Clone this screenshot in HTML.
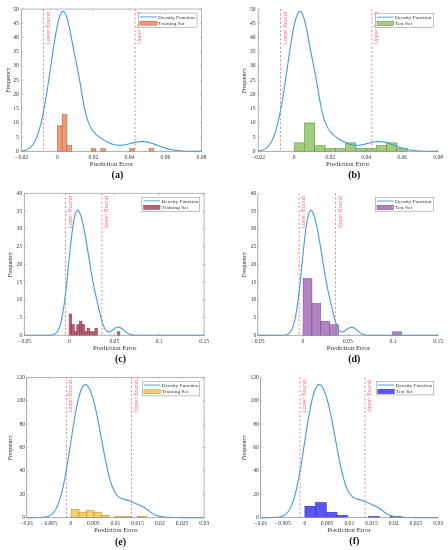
<!DOCTYPE html>
<html><head><meta charset="utf-8"><title>Prediction error distributions</title>
<style>html,body{margin:0;padding:0;background:#fff;} svg{display:block;}</style></head>
<body><svg width="448" height="550" viewBox="0 0 448 550">
<rect width="448" height="550" fill="#fff"/>
<g id="pa">
<rect x="57.3" y="125.78" width="4.83" height="25.62" fill="#ee9a73" stroke="#a85c3c" stroke-width="0.5"/>
<rect x="62.13" y="114.39" width="4.83" height="37.01" fill="#ee9a73" stroke="#a85c3c" stroke-width="0.5"/>
<rect x="66.96" y="145.71" width="4.83" height="5.69" fill="#ee9a73" stroke="#a85c3c" stroke-width="0.5"/>
<rect x="91.11" y="148.55" width="4.83" height="2.85" fill="#ee9a73" stroke="#a85c3c" stroke-width="0.5"/>
<rect x="100.77" y="148.55" width="4.83" height="2.85" fill="#ee9a73" stroke="#a85c3c" stroke-width="0.5"/>
<rect x="129.75" y="148.55" width="4.83" height="2.85" fill="#ee9a73" stroke="#a85c3c" stroke-width="0.5"/>
<rect x="149.07" y="148.55" width="4.83" height="2.85" fill="#ee9a73" stroke="#a85c3c" stroke-width="0.5"/>
<line x1="43.5" y1="9.05" x2="43.5" y2="151.4" stroke="#ee6274" stroke-width="0.8" stroke-dasharray="2,2.2"/>
<line x1="135.2" y1="9.05" x2="135.2" y2="151.4" stroke="#ee6274" stroke-width="0.8" stroke-dasharray="2,2.2"/>
<text transform="translate(49.5,44.05) rotate(-90)" font-family="'Liberation Sans', Arial, sans-serif" font-size="5.45" fill="#f07686" textLength="32.2" lengthAdjust="spacingAndGlyphs">Lower Bound</text>
<text transform="translate(141.2,44.05) rotate(-90)" font-family="'Liberation Sans', Arial, sans-serif" font-size="5.45" fill="#f07686" textLength="32.2" lengthAdjust="spacingAndGlyphs">Upper Bound</text>
<path d="M21.4,150.95 L21.85,150.89 L22.3,150.82 L22.75,150.75 L23.21,150.67 L23.66,150.57 L24.11,150.47 L24.56,150.36 L25.01,150.23 L25.46,150.09 L25.91,149.93 L26.37,149.76 L26.82,149.57 L27.27,149.37 L27.72,149.14 L28.17,148.89 L28.62,148.61 L29.07,148.31 L29.52,147.98 L29.98,147.63 L30.43,147.24 L30.88,146.81 L31.33,146.35 L31.78,145.85 L32.23,145.31 L32.68,144.73 L33.14,144.1 L33.59,143.42 L34.04,142.7 L34.49,141.91 L34.94,141.07 L35.39,140.18 L35.84,139.22 L36.3,138.19 L36.75,137.1 L37.2,135.95 L37.65,134.72 L38.1,133.41 L38.55,132.03 L39,130.58 L39.46,129.04 L39.91,127.43 L40.36,125.73 L40.81,123.95 L41.26,122.09 L41.71,120.14 L42.16,118.1 L42.61,115.99 L43.07,113.79 L43.52,111.51 L43.97,109.14 L44.42,106.7 L44.87,104.18 L45.32,101.58 L45.77,98.92 L46.23,96.18 L46.68,93.39 L47.13,90.53 L47.58,87.62 L48.03,84.66 L48.48,81.66 L48.93,78.62 L49.39,75.55 L49.84,72.46 L50.29,69.35 L50.74,66.24 L51.19,63.13 L51.64,60.03 L52.09,56.94 L52.55,53.89 L53,50.87 L53.45,47.9 L53.9,44.98 L54.35,42.13 L54.8,39.35 L55.25,36.66 L55.7,34.06 L56.16,31.56 L56.61,29.17 L57.06,26.9 L57.51,24.76 L57.96,22.76 L58.41,20.89 L58.86,19.18 L59.32,17.62 L59.77,16.23 L60.22,15 L60.67,13.94 L61.12,13.06 L61.57,12.35 L62.02,11.83 L62.48,11.49 L62.93,11.33 L63.38,11.35 L63.83,11.55 L64.28,11.94 L64.73,12.5 L65.18,13.24 L65.64,14.15 L66.09,15.23 L66.54,16.47 L66.99,17.86 L67.44,19.4 L67.89,21.09 L68.34,22.9 L68.79,24.83 L69.25,26.88 L69.7,29.02 L70.15,31.25 L70.6,33.54 L71.05,35.9 L71.5,38.29 L71.95,40.71 L72.41,43.14 L72.86,45.56 L73.31,47.96 L73.76,50.34 L74.21,52.69 L74.66,55 L75.11,57.27 L75.57,59.51 L76.02,61.73 L76.47,63.94 L76.92,66.16 L77.37,68.4 L77.82,70.68 L78.27,73.01 L78.73,75.41 L79.18,77.87 L79.63,80.41 L80.08,83.01 L80.53,85.67 L80.98,88.36 L81.43,91.07 L81.88,93.77 L82.34,96.44 L82.79,99.06 L83.24,101.6 L83.69,104.04 L84.14,106.38 L84.59,108.59 L85.04,110.67 L85.5,112.62 L85.95,114.44 L86.4,116.13 L86.85,117.7 L87.3,119.16 L87.75,120.51 L88.2,121.76 L88.66,122.92 L89.11,124 L89.56,125.01 L90.01,125.95 L90.46,126.83 L90.91,127.65 L91.36,128.43 L91.82,129.15 L92.27,129.84 L92.72,130.48 L93.17,131.09 L93.62,131.67 L94.07,132.21 L94.52,132.73 L94.97,133.23 L95.43,133.69 L95.88,134.14 L96.33,134.57 L96.78,134.98 L97.23,135.38 L97.68,135.75 L98.13,136.12 L98.59,136.48 L99.04,136.82 L99.49,137.15 L99.94,137.48 L100.39,137.8 L100.84,138.11 L101.29,138.41 L101.75,138.7 L102.2,139 L102.65,139.28 L103.1,139.56 L103.55,139.84 L104,140.11 L104.45,140.37 L104.91,140.63 L105.36,140.89 L105.81,141.14 L106.26,141.39 L106.71,141.63 L107.16,141.86 L107.61,142.09 L108.06,142.32 L108.52,142.53 L108.97,142.75 L109.42,142.95 L109.87,143.15 L110.32,143.34 L110.77,143.52 L111.22,143.7 L111.68,143.87 L112.13,144.03 L112.58,144.18 L113.03,144.32 L113.48,144.45 L113.93,144.58 L114.38,144.7 L114.84,144.8 L115.29,144.9 L115.74,144.99 L116.19,145.07 L116.64,145.14 L117.09,145.2 L117.54,145.25 L117.99,145.29 L118.45,145.32 L118.9,145.34 L119.35,145.35 L119.8,145.36 L120.25,145.35 L120.7,145.34 L121.15,145.32 L121.61,145.29 L122.06,145.25 L122.51,145.2 L122.96,145.15 L123.41,145.09 L123.86,145.02 L124.31,144.95 L124.77,144.87 L125.22,144.78 L125.67,144.69 L126.12,144.6 L126.57,144.5 L127.02,144.4 L127.47,144.29 L127.93,144.18 L128.38,144.07 L128.83,143.95 L129.28,143.84 L129.73,143.72 L130.18,143.6 L130.63,143.48 L131.08,143.36 L131.54,143.24 L131.99,143.13 L132.44,143.01 L132.89,142.9 L133.34,142.79 L133.79,142.68 L134.24,142.57 L134.7,142.47 L135.15,142.37 L135.6,142.28 L136.05,142.19 L136.5,142.11 L136.95,142.03 L137.4,141.95 L137.86,141.89 L138.31,141.83 L138.76,141.77 L139.21,141.72 L139.66,141.68 L140.11,141.65 L140.56,141.62 L141.02,141.6 L141.47,141.59 L141.92,141.59 L142.37,141.59 L142.82,141.6 L143.27,141.62 L143.72,141.64 L144.17,141.68 L144.63,141.72 L145.08,141.77 L145.53,141.82 L145.98,141.88 L146.43,141.95 L146.88,142.03 L147.33,142.12 L147.79,142.21 L148.24,142.3 L148.69,142.41 L149.14,142.52 L149.59,142.63 L150.04,142.75 L150.49,142.88 L150.95,143.01 L151.4,143.15 L151.85,143.29 L152.3,143.43 L152.75,143.58 L153.2,143.73 L153.65,143.89 L154.11,144.05 L154.56,144.21 L155.01,144.37 L155.46,144.54 L155.91,144.7 L156.36,144.87 L156.81,145.04 L157.26,145.21 L157.72,145.38 L158.17,145.55 L158.62,145.72 L159.07,145.89 L159.52,146.06 L159.97,146.23 L160.42,146.39 L160.88,146.56 L161.33,146.72 L161.78,146.88 L162.23,147.04 L162.68,147.2 L163.13,147.36 L163.58,147.51 L164.04,147.66 L164.49,147.81 L164.94,147.95 L165.39,148.09 L165.84,148.23 L166.29,148.37 L166.74,148.5 L167.2,148.63 L167.65,148.75 L168.1,148.87 L168.55,148.99 L169,149.1 L169.45,149.22 L169.9,149.32 L170.35,149.43 L170.81,149.52 L171.26,149.62 L171.71,149.71 L172.16,149.8 L172.61,149.89 L173.06,149.97 L173.51,150.05 L173.97,150.12 L174.42,150.2 L174.87,150.27 L175.32,150.33 L175.77,150.4 L176.22,150.46 L176.67,150.51 L177.13,150.57 L177.58,150.62 L178.03,150.67 L178.48,150.71 L178.93,150.76 L179.38,150.8 L179.83,150.84 L180.29,150.88 L180.74,150.91 L181.19,150.95 L181.64,150.98 L182.09,151.01 L182.54,151.03 L182.99,151.06 L183.44,151.09 L183.9,151.11 L184.35,151.13 L184.8,151.15 L185.25,151.17 L185.7,151.19 L186.15,151.2 L186.6,151.22 L187.06,151.23 L187.51,151.25 L187.96,151.26 L188.41,151.27 L188.86,151.28 L189.31,151.29 L189.76,151.3 L190.22,151.31 L190.67,151.32 L191.12,151.32 L191.57,151.33 L192.02,151.34 L192.47,151.34 L192.92,151.35 L193.38,151.35 L193.83,151.36 L194.28,151.36 L194.73,151.36 L195.18,151.37 L195.63,151.37 L196.08,151.37 L196.53,151.37 L196.99,151.38 L197.44,151.38 L197.89,151.38 L198.34,151.38 L198.79,151.38 L199.24,151.39 L199.69,151.39 L200.15,151.39 L200.6,151.39 L201.05,151.39 L201.5,151.39" fill="none" stroke="#439bd7" stroke-width="1.1" stroke-linejoin="round"/>
<path d="M21.4,9.05 V151.4 H201.5" fill="none" stroke="#979797" stroke-width="0.8"/>
<path d="M21.4,9.05 H201.5 V151.4" fill="none" stroke="#979797" stroke-width="0.7"/>
<text x="21.4" y="158.8" text-anchor="middle" font-family="'Liberation Serif', 'Times New Roman', serif" font-size="5.6" fill="#333333">−<tspan dx="0.6">0.02</tspan></text>
<text x="57.42" y="158.8" text-anchor="middle" font-family="'Liberation Serif', 'Times New Roman', serif" font-size="5.6" fill="#333333">0</text>
<text x="93.44" y="158.8" text-anchor="middle" font-family="'Liberation Serif', 'Times New Roman', serif" font-size="5.6" fill="#333333">0.02</text>
<text x="129.46" y="158.8" text-anchor="middle" font-family="'Liberation Serif', 'Times New Roman', serif" font-size="5.6" fill="#333333">0.04</text>
<text x="165.48" y="158.8" text-anchor="middle" font-family="'Liberation Serif', 'Times New Roman', serif" font-size="5.6" fill="#333333">0.06</text>
<text x="201.5" y="158.8" text-anchor="middle" font-family="'Liberation Serif', 'Times New Roman', serif" font-size="5.6" fill="#333333">0.08</text>
<text x="18.8" y="152.85" text-anchor="end" font-family="'Liberation Serif', 'Times New Roman', serif" font-size="5.6" fill="#333333">0</text>
<text x="18.8" y="138.62" text-anchor="end" font-family="'Liberation Serif', 'Times New Roman', serif" font-size="5.6" fill="#333333">5</text>
<text x="18.8" y="124.38" text-anchor="end" font-family="'Liberation Serif', 'Times New Roman', serif" font-size="5.6" fill="#333333">10</text>
<text x="18.8" y="110.15" text-anchor="end" font-family="'Liberation Serif', 'Times New Roman', serif" font-size="5.6" fill="#333333">15</text>
<text x="18.8" y="95.91" text-anchor="end" font-family="'Liberation Serif', 'Times New Roman', serif" font-size="5.6" fill="#333333">20</text>
<text x="18.8" y="81.68" text-anchor="end" font-family="'Liberation Serif', 'Times New Roman', serif" font-size="5.6" fill="#333333">25</text>
<text x="18.8" y="67.44" text-anchor="end" font-family="'Liberation Serif', 'Times New Roman', serif" font-size="5.6" fill="#333333">30</text>
<text x="18.8" y="53.21" text-anchor="end" font-family="'Liberation Serif', 'Times New Roman', serif" font-size="5.6" fill="#333333">35</text>
<text x="18.8" y="38.97" text-anchor="end" font-family="'Liberation Serif', 'Times New Roman', serif" font-size="5.6" fill="#333333">40</text>
<text x="18.8" y="24.73" text-anchor="end" font-family="'Liberation Serif', 'Times New Roman', serif" font-size="5.6" fill="#333333">45</text>
<text x="18.8" y="10.5" text-anchor="end" font-family="'Liberation Serif', 'Times New Roman', serif" font-size="5.6" fill="#333333">50</text>
<path d="M21.4,151.4 v-1.8 M21.4,9.05 v1.8 M57.42,151.4 v-1.8 M57.42,9.05 v1.8 M93.44,151.4 v-1.8 M93.44,9.05 v1.8 M129.46,151.4 v-1.8 M129.46,9.05 v1.8 M165.48,151.4 v-1.8 M165.48,9.05 v1.8 M201.5,151.4 v-1.8 M201.5,9.05 v1.8 M21.4,151.4 h1.8 M201.5,151.4 h-1.8 M21.4,137.17 h1.8 M201.5,137.17 h-1.8 M21.4,122.93 h1.8 M201.5,122.93 h-1.8 M21.4,108.7 h1.8 M201.5,108.7 h-1.8 M21.4,94.46 h1.8 M201.5,94.46 h-1.8 M21.4,80.23 h1.8 M201.5,80.23 h-1.8 M21.4,65.99 h1.8 M201.5,65.99 h-1.8 M21.4,51.76 h1.8 M201.5,51.76 h-1.8 M21.4,37.52 h1.8 M201.5,37.52 h-1.8 M21.4,23.28 h1.8 M201.5,23.28 h-1.8 M21.4,9.05 h1.8 M201.5,9.05 h-1.8" stroke="#979797" stroke-width="0.6"/>
<text x="111.4" y="166.1" text-anchor="middle" font-family="'Liberation Serif', 'Times New Roman', serif" font-size="6.8" fill="#333333" textLength="43.5" lengthAdjust="spacingAndGlyphs">Prediction Error</text>
<text transform="translate(9.5,80) rotate(-90)" text-anchor="middle" font-family="'Liberation Serif', 'Times New Roman', serif" font-size="6.3" fill="#333333" textLength="25.6" lengthAdjust="spacingAndGlyphs">Frequency</text>
<text x="117.4" y="177.9" text-anchor="middle" font-family="'Liberation Serif', 'Times New Roman', serif" font-weight="bold" font-size="10" fill="#111">(a)</text>
<rect x="138.3" y="13.1" width="58.7" height="14.2" fill="#fff" stroke="#979797" stroke-width="0.6"/>
<line x1="139.9" y1="16.9" x2="157.1" y2="16.9" stroke="#439bd7" stroke-width="0.9"/>
<rect x="139.9" y="21.2" width="17.2" height="4" fill="#ee9a73" stroke="#a85c3c" stroke-width="0.5"/>
<text x="158.1" y="18.8" font-family="'Liberation Serif', 'Times New Roman', serif" font-size="5.0" fill="#333333" textLength="36.9" lengthAdjust="spacingAndGlyphs">Density Function</text>
<text x="158.1" y="24.5" font-family="'Liberation Serif', 'Times New Roman', serif" font-size="5.0" fill="#333333" textLength="26.5" lengthAdjust="spacingAndGlyphs">Training Set</text>
</g>
<g id="pb">
<rect x="294.2" y="142.86" width="10.28" height="8.54" fill="#a1cf79" stroke="#5f8040" stroke-width="0.5"/>
<rect x="304.48" y="122.93" width="10.28" height="28.47" fill="#a1cf79" stroke="#5f8040" stroke-width="0.5"/>
<rect x="314.76" y="145.71" width="10.28" height="5.69" fill="#a1cf79" stroke="#5f8040" stroke-width="0.5"/>
<rect x="325.04" y="148.55" width="10.28" height="2.85" fill="#a1cf79" stroke="#5f8040" stroke-width="0.5"/>
<rect x="335.32" y="148.55" width="10.28" height="2.85" fill="#a1cf79" stroke="#5f8040" stroke-width="0.5"/>
<rect x="345.6" y="142.86" width="10.28" height="8.54" fill="#a1cf79" stroke="#5f8040" stroke-width="0.5"/>
<rect x="355.88" y="148.55" width="10.28" height="2.85" fill="#a1cf79" stroke="#5f8040" stroke-width="0.5"/>
<rect x="366.16" y="148.55" width="10.28" height="2.85" fill="#a1cf79" stroke="#5f8040" stroke-width="0.5"/>
<rect x="376.44" y="145.71" width="10.28" height="5.69" fill="#a1cf79" stroke="#5f8040" stroke-width="0.5"/>
<rect x="386.72" y="142.86" width="10.28" height="8.54" fill="#a1cf79" stroke="#5f8040" stroke-width="0.5"/>
<rect x="397" y="148.55" width="10.28" height="2.85" fill="#a1cf79" stroke="#5f8040" stroke-width="0.5"/>
<line x1="280.5" y1="9.05" x2="280.5" y2="151.4" stroke="#ee6274" stroke-width="0.8" stroke-dasharray="2,2.2"/>
<line x1="371.8" y1="9.05" x2="371.8" y2="151.4" stroke="#ee6274" stroke-width="0.8" stroke-dasharray="2,2.2"/>
<text transform="translate(286.5,44.05) rotate(-90)" font-family="'Liberation Sans', Arial, sans-serif" font-size="5.45" fill="#f07686" textLength="32.2" lengthAdjust="spacingAndGlyphs">Lower Bound</text>
<text transform="translate(377.8,44.05) rotate(-90)" font-family="'Liberation Sans', Arial, sans-serif" font-size="5.45" fill="#f07686" textLength="32.2" lengthAdjust="spacingAndGlyphs">Upper Bound</text>
<path d="M258.2,150.95 L258.65,150.89 L259.1,150.82 L259.55,150.75 L260,150.67 L260.45,150.57 L260.91,150.47 L261.36,150.36 L261.81,150.23 L262.26,150.09 L262.71,149.94 L263.16,149.77 L263.61,149.58 L264.06,149.37 L264.51,149.14 L264.96,148.89 L265.41,148.62 L265.86,148.32 L266.32,147.99 L266.77,147.63 L267.22,147.25 L267.67,146.82 L268.12,146.36 L268.57,145.87 L269.02,145.33 L269.47,144.75 L269.92,144.12 L270.37,143.45 L270.82,142.72 L271.28,141.94 L271.73,141.1 L272.18,140.21 L272.63,139.25 L273.08,138.23 L273.53,137.15 L273.98,135.99 L274.43,134.77 L274.88,133.47 L275.33,132.09 L275.78,130.64 L276.24,129.11 L276.69,127.5 L277.14,125.81 L277.59,124.04 L278.04,122.18 L278.49,120.24 L278.94,118.21 L279.39,116.1 L279.84,113.91 L280.29,111.63 L280.74,109.27 L281.19,106.84 L281.65,104.33 L282.1,101.74 L282.55,99.08 L283,96.35 L283.45,93.56 L283.9,90.71 L284.35,87.81 L284.8,84.85 L285.25,81.86 L285.7,78.82 L286.15,75.76 L286.61,72.67 L287.06,69.57 L287.51,66.46 L287.96,63.35 L288.41,60.26 L288.86,57.17 L289.31,54.12 L289.76,51.1 L290.21,48.13 L290.66,45.21 L291.11,42.36 L291.56,39.58 L292.02,36.88 L292.47,34.27 L292.92,31.77 L293.37,29.37 L293.82,27.1 L294.27,24.95 L294.72,22.93 L295.17,21.06 L295.62,19.33 L296.07,17.76 L296.52,16.35 L296.98,15.11 L297.43,14.04 L297.88,13.14 L298.33,12.42 L298.78,11.87 L299.23,11.51 L299.68,11.33 L300.13,11.34 L300.58,11.52 L301.03,11.89 L301.48,12.43 L301.94,13.15 L302.39,14.04 L302.84,15.1 L303.29,16.32 L303.74,17.7 L304.19,19.22 L304.64,20.89 L305.09,22.68 L305.54,24.6 L305.99,26.63 L306.44,28.76 L306.89,30.98 L307.35,33.26 L307.8,35.61 L308.25,37.99 L308.7,40.41 L309.15,42.83 L309.6,45.25 L310.05,47.66 L310.5,50.04 L310.95,52.38 L311.4,54.7 L311.85,56.97 L312.31,59.21 L312.76,61.43 L313.21,63.64 L313.66,65.85 L314.11,68.09 L314.56,70.36 L315.01,72.68 L315.46,75.07 L315.91,77.52 L316.36,80.04 L316.81,82.63 L317.26,85.28 L317.72,87.96 L318.17,90.67 L318.62,93.37 L319.07,96.04 L319.52,98.67 L319.97,101.22 L320.42,103.67 L320.87,106.02 L321.32,108.25 L321.77,110.35 L322.22,112.32 L322.68,114.16 L323.13,115.87 L323.58,117.46 L324.03,118.93 L324.48,120.29 L324.93,121.56 L325.38,122.73 L325.83,123.83 L326.28,124.84 L326.73,125.79 L327.18,126.68 L327.64,127.51 L328.09,128.3 L328.54,129.03 L328.99,129.72 L329.44,130.37 L329.89,130.99 L330.34,131.57 L330.79,132.12 L331.24,132.64 L331.69,133.14 L332.14,133.61 L332.59,134.06 L333.05,134.49 L333.5,134.91 L333.95,135.3 L334.4,135.68 L334.85,136.05 L335.3,136.41 L335.75,136.75 L336.2,137.09 L336.65,137.42 L337.1,137.73 L337.55,138.05 L338.01,138.35 L338.46,138.65 L338.91,138.94 L339.36,139.22 L339.81,139.51 L340.26,139.78 L340.71,140.05 L341.16,140.32 L341.61,140.58 L342.06,140.84 L342.51,141.09 L342.96,141.34 L343.42,141.58 L343.87,141.81 L344.32,142.04 L344.77,142.27 L345.22,142.49 L345.67,142.7 L346.12,142.91 L346.57,143.11 L347.02,143.3 L347.47,143.48 L347.92,143.66 L348.38,143.83 L348.83,143.99 L349.28,144.14 L349.73,144.29 L350.18,144.43 L350.63,144.55 L351.08,144.67 L351.53,144.78 L351.98,144.88 L352.43,144.97 L352.88,145.05 L353.34,145.12 L353.79,145.18 L354.24,145.23 L354.69,145.28 L355.14,145.31 L355.59,145.34 L356.04,145.35 L356.49,145.36 L356.94,145.35 L357.39,145.34 L357.84,145.32 L358.29,145.29 L358.75,145.26 L359.2,145.21 L359.65,145.16 L360.1,145.1 L360.55,145.04 L361,144.97 L361.45,144.89 L361.9,144.81 L362.35,144.72 L362.8,144.62 L363.25,144.52 L363.71,144.42 L364.16,144.32 L364.61,144.21 L365.06,144.1 L365.51,143.98 L365.96,143.87 L366.41,143.75 L366.86,143.63 L367.31,143.51 L367.76,143.39 L368.21,143.28 L368.66,143.16 L369.12,143.04 L369.57,142.93 L370.02,142.82 L370.47,142.71 L370.92,142.6 L371.37,142.5 L371.82,142.4 L372.27,142.3 L372.72,142.21 L373.17,142.13 L373.62,142.05 L374.08,141.97 L374.53,141.91 L374.98,141.84 L375.43,141.79 L375.88,141.74 L376.33,141.69 L376.78,141.66 L377.23,141.63 L377.68,141.61 L378.13,141.59 L378.58,141.59 L379.04,141.59 L379.49,141.59 L379.94,141.61 L380.39,141.63 L380.84,141.67 L381.29,141.7 L381.74,141.75 L382.19,141.8 L382.64,141.86 L383.09,141.93 L383.54,142.01 L383.99,142.09 L384.45,142.18 L384.9,142.27 L385.35,142.37 L385.8,142.48 L386.25,142.6 L386.7,142.72 L387.15,142.84 L387.6,142.97 L388.05,143.1 L388.5,143.24 L388.95,143.39 L389.41,143.53 L389.86,143.68 L390.31,143.84 L390.76,144 L391.21,144.15 L391.66,144.32 L392.11,144.48 L392.56,144.65 L393.01,144.81 L393.46,144.98 L393.91,145.15 L394.36,145.32 L394.82,145.49 L395.27,145.66 L395.72,145.83 L396.17,146 L396.62,146.17 L397.07,146.34 L397.52,146.5 L397.97,146.67 L398.42,146.83 L398.87,146.99 L399.32,147.15 L399.78,147.3 L400.23,147.46 L400.68,147.61 L401.13,147.76 L401.58,147.9 L402.03,148.04 L402.48,148.18 L402.93,148.32 L403.38,148.45 L403.83,148.58 L404.28,148.71 L404.74,148.83 L405.19,148.95 L405.64,149.06 L406.09,149.18 L406.54,149.28 L406.99,149.39 L407.44,149.49 L407.89,149.59 L408.34,149.68 L408.79,149.77 L409.24,149.86 L409.69,149.94 L410.15,150.02 L410.6,150.1 L411.05,150.17 L411.5,150.24 L411.95,150.31 L412.4,150.37 L412.85,150.43 L413.3,150.49 L413.75,150.55 L414.2,150.6 L414.65,150.65 L415.11,150.7 L415.56,150.74 L416.01,150.78 L416.46,150.82 L416.91,150.86 L417.36,150.9 L417.81,150.93 L418.26,150.97 L418.71,151 L419.16,151.02 L419.61,151.05 L420.06,151.08 L420.52,151.1 L420.97,151.12 L421.42,151.14 L421.87,151.16 L422.32,151.18 L422.77,151.2 L423.22,151.21 L423.67,151.23 L424.12,151.24 L424.57,151.25 L425.02,151.26 L425.48,151.28 L425.93,151.29 L426.38,151.3 L426.83,151.3 L427.28,151.31 L427.73,151.32 L428.18,151.33 L428.63,151.33 L429.08,151.34 L429.53,151.34 L429.98,151.35 L430.44,151.35 L430.89,151.36 L431.34,151.36 L431.79,151.36 L432.24,151.37 L432.69,151.37 L433.14,151.37 L433.59,151.38 L434.04,151.38 L434.49,151.38 L434.94,151.38 L435.39,151.38 L435.85,151.39 L436.3,151.39 L436.75,151.39 L437.2,151.39 L437.65,151.39 L438.1,151.39" fill="none" stroke="#439bd7" stroke-width="1.1" stroke-linejoin="round"/>
<path d="M258.2,9.05 V151.4 H438.1" fill="none" stroke="#979797" stroke-width="0.8"/>
<text x="258.2" y="158.8" text-anchor="middle" font-family="'Liberation Serif', 'Times New Roman', serif" font-size="5.6" fill="#333333">−<tspan dx="0.6">0.02</tspan></text>
<text x="294.18" y="158.8" text-anchor="middle" font-family="'Liberation Serif', 'Times New Roman', serif" font-size="5.6" fill="#333333">0</text>
<text x="330.16" y="158.8" text-anchor="middle" font-family="'Liberation Serif', 'Times New Roman', serif" font-size="5.6" fill="#333333">0.02</text>
<text x="366.14" y="158.8" text-anchor="middle" font-family="'Liberation Serif', 'Times New Roman', serif" font-size="5.6" fill="#333333">0.04</text>
<text x="402.12" y="158.8" text-anchor="middle" font-family="'Liberation Serif', 'Times New Roman', serif" font-size="5.6" fill="#333333">0.06</text>
<text x="438.1" y="158.8" text-anchor="middle" font-family="'Liberation Serif', 'Times New Roman', serif" font-size="5.6" fill="#333333">0.08</text>
<text x="255.6" y="152.85" text-anchor="end" font-family="'Liberation Serif', 'Times New Roman', serif" font-size="5.6" fill="#333333">0</text>
<text x="255.6" y="138.62" text-anchor="end" font-family="'Liberation Serif', 'Times New Roman', serif" font-size="5.6" fill="#333333">5</text>
<text x="255.6" y="124.38" text-anchor="end" font-family="'Liberation Serif', 'Times New Roman', serif" font-size="5.6" fill="#333333">10</text>
<text x="255.6" y="110.15" text-anchor="end" font-family="'Liberation Serif', 'Times New Roman', serif" font-size="5.6" fill="#333333">15</text>
<text x="255.6" y="95.91" text-anchor="end" font-family="'Liberation Serif', 'Times New Roman', serif" font-size="5.6" fill="#333333">20</text>
<text x="255.6" y="81.68" text-anchor="end" font-family="'Liberation Serif', 'Times New Roman', serif" font-size="5.6" fill="#333333">25</text>
<text x="255.6" y="67.44" text-anchor="end" font-family="'Liberation Serif', 'Times New Roman', serif" font-size="5.6" fill="#333333">30</text>
<text x="255.6" y="53.21" text-anchor="end" font-family="'Liberation Serif', 'Times New Roman', serif" font-size="5.6" fill="#333333">35</text>
<text x="255.6" y="38.97" text-anchor="end" font-family="'Liberation Serif', 'Times New Roman', serif" font-size="5.6" fill="#333333">40</text>
<text x="255.6" y="24.73" text-anchor="end" font-family="'Liberation Serif', 'Times New Roman', serif" font-size="5.6" fill="#333333">45</text>
<text x="255.6" y="10.5" text-anchor="end" font-family="'Liberation Serif', 'Times New Roman', serif" font-size="5.6" fill="#333333">50</text>
<path d="M258.2,151.4 v-1.8 M294.18,151.4 v-1.8 M330.16,151.4 v-1.8 M366.14,151.4 v-1.8 M402.12,151.4 v-1.8 M438.1,151.4 v-1.8 M258.2,151.4 h1.8 M258.2,137.17 h1.8 M258.2,122.93 h1.8 M258.2,108.7 h1.8 M258.2,94.46 h1.8 M258.2,80.23 h1.8 M258.2,65.99 h1.8 M258.2,51.76 h1.8 M258.2,37.52 h1.8 M258.2,23.28 h1.8 M258.2,9.05 h1.8" stroke="#979797" stroke-width="0.6"/>
<text x="347.85" y="165.85" text-anchor="middle" font-family="'Liberation Serif', 'Times New Roman', serif" font-size="6.8" fill="#333333" textLength="43.5" lengthAdjust="spacingAndGlyphs">Prediction Error</text>
<text transform="translate(246,80.5) rotate(-90)" text-anchor="middle" font-family="'Liberation Serif', 'Times New Roman', serif" font-size="6.3" fill="#333333" textLength="25.6" lengthAdjust="spacingAndGlyphs">Frequency</text>
<text x="354.3" y="177.9" text-anchor="middle" font-family="'Liberation Serif', 'Times New Roman', serif" font-weight="bold" font-size="10" fill="#111">(b)</text>
<rect x="375.5" y="13.3" width="58" height="14" fill="#fff" stroke="#979797" stroke-width="0.6"/>
<line x1="377" y1="17.2" x2="393.4" y2="17.2" stroke="#439bd7" stroke-width="0.9"/>
<rect x="377" y="21.2" width="16.4" height="4.2" fill="#a1cf79" stroke="#5f8040" stroke-width="0.5"/>
<text x="395" y="18.8" font-family="'Liberation Serif', 'Times New Roman', serif" font-size="5.0" fill="#333333" textLength="36.4" lengthAdjust="spacingAndGlyphs">Density Function</text>
<text x="395" y="24.5" font-family="'Liberation Serif', 'Times New Roman', serif" font-size="5.0" fill="#333333" textLength="16.9" lengthAdjust="spacingAndGlyphs">Test Set</text>
</g>
<g id="pc">
<rect x="69.1" y="314.01" width="2.58" height="21.29" fill="#c25c76" stroke="#7a3044" stroke-width="0.5"/>
<rect x="71.68" y="324.66" width="2.58" height="10.64" fill="#c25c76" stroke="#7a3044" stroke-width="0.5"/>
<rect x="74.26" y="331.75" width="2.58" height="3.55" fill="#c25c76" stroke="#7a3044" stroke-width="0.5"/>
<rect x="76.84" y="324.66" width="2.58" height="10.64" fill="#c25c76" stroke="#7a3044" stroke-width="0.5"/>
<rect x="79.42" y="321.11" width="2.58" height="14.19" fill="#c25c76" stroke="#7a3044" stroke-width="0.5"/>
<rect x="82" y="324.66" width="2.58" height="10.64" fill="#c25c76" stroke="#7a3044" stroke-width="0.5"/>
<rect x="84.58" y="331.75" width="2.58" height="3.55" fill="#c25c76" stroke="#7a3044" stroke-width="0.5"/>
<rect x="87.16" y="328.2" width="2.58" height="7.1" fill="#c25c76" stroke="#7a3044" stroke-width="0.5"/>
<rect x="89.74" y="331.75" width="2.58" height="3.55" fill="#c25c76" stroke="#7a3044" stroke-width="0.5"/>
<rect x="92.32" y="331.75" width="2.58" height="3.55" fill="#c25c76" stroke="#7a3044" stroke-width="0.5"/>
<rect x="94.9" y="328.2" width="2.58" height="7.1" fill="#c25c76" stroke="#7a3044" stroke-width="0.5"/>
<rect x="117.3" y="331.75" width="2.6" height="3.55" fill="#c25c76" stroke="#7a3044" stroke-width="0.5"/>
<line x1="65.5" y1="193.4" x2="65.5" y2="335.3" stroke="#ee6274" stroke-width="0.8" stroke-dasharray="2,2.2"/>
<line x1="101.95" y1="193.4" x2="101.95" y2="335.3" stroke="#ee6274" stroke-width="0.8" stroke-dasharray="2,2.2"/>
<text transform="translate(71.5,228.4) rotate(-90)" font-family="'Liberation Sans', Arial, sans-serif" font-size="5.45" fill="#f07686" textLength="32.2" lengthAdjust="spacingAndGlyphs">Lower Bound</text>
<text transform="translate(107.95,228.4) rotate(-90)" font-family="'Liberation Sans', Arial, sans-serif" font-size="5.45" fill="#f07686" textLength="32.2" lengthAdjust="spacingAndGlyphs">Upper Bound</text>
<path d="M24.4,335.3 L24.85,335.3 L25.3,335.3 L25.75,335.3 L26.2,335.3 L26.65,335.3 L27.1,335.3 L27.55,335.3 L28.01,335.3 L28.46,335.3 L28.91,335.3 L29.36,335.3 L29.81,335.3 L30.26,335.3 L30.71,335.3 L31.16,335.3 L31.61,335.3 L32.06,335.3 L32.51,335.3 L32.96,335.3 L33.41,335.3 L33.86,335.3 L34.31,335.3 L34.76,335.3 L35.22,335.3 L35.67,335.3 L36.12,335.3 L36.57,335.3 L37.02,335.3 L37.47,335.3 L37.92,335.3 L38.37,335.3 L38.82,335.3 L39.27,335.3 L39.72,335.3 L40.17,335.3 L40.62,335.3 L41.07,335.3 L41.52,335.3 L41.97,335.3 L42.43,335.3 L42.88,335.3 L43.33,335.3 L43.78,335.3 L44.23,335.3 L44.68,335.29 L45.13,335.29 L45.58,335.29 L46.03,335.29 L46.48,335.28 L46.93,335.28 L47.38,335.27 L47.83,335.26 L48.28,335.25 L48.73,335.23 L49.18,335.21 L49.64,335.18 L50.09,335.15 L50.54,335.11 L50.99,335.06 L51.44,335 L51.89,334.93 L52.34,334.84 L52.79,334.73 L53.24,334.59 L53.69,334.43 L54.14,334.24 L54.59,334.01 L55.04,333.73 L55.49,333.41 L55.94,333.02 L56.39,332.57 L56.85,332.05 L57.3,331.44 L57.75,330.74 L58.2,329.93 L58.65,329 L59.1,327.95 L59.55,326.76 L60,325.42 L60.45,323.92 L60.9,322.25 L61.35,320.4 L61.8,318.35 L62.25,316.11 L62.7,313.66 L63.15,311.01 L63.6,308.14 L64.06,305.06 L64.51,301.78 L64.96,298.3 L65.41,294.62 L65.86,290.77 L66.31,286.75 L66.76,282.59 L67.21,278.31 L67.66,273.93 L68.11,269.48 L68.56,264.99 L69.01,260.49 L69.46,256.02 L69.91,251.6 L70.36,247.28 L70.81,243.08 L71.27,239.04 L71.72,235.19 L72.17,231.55 L72.62,228.15 L73.07,225.02 L73.52,222.17 L73.97,219.61 L74.42,217.37 L74.87,215.43 L75.32,213.81 L75.77,212.51 L76.22,211.51 L76.67,210.81 L77.12,210.4 L77.57,210.26 L78.02,210.38 L78.48,210.74 L78.93,211.33 L79.38,212.12 L79.83,213.11 L80.28,214.27 L80.73,215.59 L81.18,217.06 L81.63,218.67 L82.08,220.4 L82.53,222.26 L82.98,224.22 L83.43,226.3 L83.88,228.47 L84.33,230.74 L84.78,233.1 L85.23,235.56 L85.69,238.09 L86.14,240.7 L86.59,243.38 L87.04,246.11 L87.49,248.89 L87.94,251.71 L88.39,254.55 L88.84,257.4 L89.29,260.24 L89.74,263.06 L90.19,265.86 L90.64,268.6 L91.09,271.3 L91.54,273.93 L91.99,276.49 L92.44,278.98 L92.9,281.39 L93.35,283.74 L93.8,286.01 L94.25,288.22 L94.7,290.38 L95.15,292.49 L95.6,294.56 L96.05,296.59 L96.5,298.61 L96.95,300.6 L97.4,302.58 L97.85,304.54 L98.3,306.49 L98.75,308.42 L99.2,310.33 L99.65,312.21 L100.11,314.05 L100.56,315.85 L101.01,317.58 L101.46,319.25 L101.91,320.84 L102.36,322.34 L102.81,323.74 L103.26,325.04 L103.71,326.22 L104.16,327.29 L104.61,328.24 L105.06,329.08 L105.51,329.8 L105.96,330.4 L106.41,330.9 L106.86,331.29 L107.32,331.58 L107.77,331.78 L108.22,331.89 L108.67,331.92 L109.12,331.88 L109.57,331.77 L110.02,331.61 L110.47,331.4 L110.92,331.15 L111.37,330.86 L111.82,330.55 L112.27,330.22 L112.72,329.88 L113.17,329.53 L113.62,329.18 L114.07,328.84 L114.53,328.52 L114.98,328.22 L115.43,327.94 L115.88,327.7 L116.33,327.5 L116.78,327.34 L117.23,327.22 L117.68,327.15 L118.13,327.12 L118.58,327.15 L119.03,327.22 L119.48,327.34 L119.93,327.51 L120.38,327.72 L120.83,327.96 L121.28,328.24 L121.74,328.56 L122.19,328.89 L122.64,329.25 L123.09,329.62 L123.54,330 L123.99,330.38 L124.44,330.76 L124.89,331.14 L125.34,331.51 L125.79,331.87 L126.24,332.21 L126.69,332.54 L127.14,332.84 L127.59,333.13 L128.04,333.39 L128.49,333.63 L128.95,333.85 L129.4,334.05 L129.85,334.23 L130.3,334.39 L130.75,334.53 L131.2,334.65 L131.65,334.75 L132.1,334.84 L132.55,334.92 L133,334.99 L133.45,335.05 L133.9,335.09 L134.35,335.13 L134.8,335.17 L135.25,335.19 L135.7,335.22 L136.16,335.23 L136.61,335.25 L137.06,335.26 L137.51,335.27 L137.96,335.28 L138.41,335.28 L138.86,335.29 L139.31,335.29 L139.76,335.29 L140.21,335.29 L140.66,335.3 L141.11,335.3 L141.56,335.3 L142.01,335.3 L142.46,335.3 L142.91,335.3 L143.37,335.3 L143.82,335.3 L144.27,335.3 L144.72,335.3 L145.17,335.3 L145.62,335.3 L146.07,335.3 L146.52,335.3 L146.97,335.3 L147.42,335.3 L147.87,335.3 L148.32,335.3 L148.77,335.3 L149.22,335.3 L149.67,335.3 L150.12,335.3 L150.58,335.3 L151.03,335.3 L151.48,335.3 L151.93,335.3 L152.38,335.3 L152.83,335.3 L153.28,335.3 L153.73,335.3 L154.18,335.3 L154.63,335.3 L155.08,335.3 L155.53,335.3 L155.98,335.3 L156.43,335.3 L156.88,335.3 L157.33,335.3 L157.79,335.3 L158.24,335.3 L158.69,335.3 L159.14,335.3 L159.59,335.3 L160.04,335.3 L160.49,335.3 L160.94,335.3 L161.39,335.3 L161.84,335.3 L162.29,335.3 L162.74,335.3 L163.19,335.3 L163.64,335.3 L164.09,335.3 L164.54,335.3 L165,335.3 L165.45,335.3 L165.9,335.3 L166.35,335.3 L166.8,335.3 L167.25,335.3 L167.7,335.3 L168.15,335.3 L168.6,335.3 L169.05,335.3 L169.5,335.3 L169.95,335.3 L170.4,335.3 L170.85,335.3 L171.3,335.3 L171.75,335.3 L172.21,335.3 L172.66,335.3 L173.11,335.3 L173.56,335.3 L174.01,335.3 L174.46,335.3 L174.91,335.3 L175.36,335.3 L175.81,335.3 L176.26,335.3 L176.71,335.3 L177.16,335.3 L177.61,335.3 L178.06,335.3 L178.51,335.3 L178.96,335.3 L179.42,335.3 L179.87,335.3 L180.32,335.3 L180.77,335.3 L181.22,335.3 L181.67,335.3 L182.12,335.3 L182.57,335.3 L183.02,335.3 L183.47,335.3 L183.92,335.3 L184.37,335.3 L184.82,335.3 L185.27,335.3 L185.72,335.3 L186.17,335.3 L186.63,335.3 L187.08,335.3 L187.53,335.3 L187.98,335.3 L188.43,335.3 L188.88,335.3 L189.33,335.3 L189.78,335.3 L190.23,335.3 L190.68,335.3 L191.13,335.3 L191.58,335.3 L192.03,335.3 L192.48,335.3 L192.93,335.3 L193.38,335.3 L193.84,335.3 L194.29,335.3 L194.74,335.3 L195.19,335.3 L195.64,335.3 L196.09,335.3 L196.54,335.3 L196.99,335.3 L197.44,335.3 L197.89,335.3 L198.34,335.3 L198.79,335.3 L199.24,335.3 L199.69,335.3 L200.14,335.3 L200.59,335.3 L201.05,335.3 L201.5,335.3 L201.95,335.3 L202.4,335.3 L202.85,335.3 L203.3,335.3 L203.75,335.3 L204.2,335.3" fill="none" stroke="#439bd7" stroke-width="1.1" stroke-linejoin="round"/>
<path d="M24.4,193.4 V335.3 H204.2" fill="none" stroke="#979797" stroke-width="0.8"/>
<path d="M24.4,193.4 H204.2 V335.3" fill="none" stroke="#979797" stroke-width="0.7"/>
<text x="24.4" y="342.7" text-anchor="middle" font-family="'Liberation Serif', 'Times New Roman', serif" font-size="5.6" fill="#333333">−<tspan dx="0.6">0.05</tspan></text>
<text x="69.35" y="342.7" text-anchor="middle" font-family="'Liberation Serif', 'Times New Roman', serif" font-size="5.6" fill="#333333">0</text>
<text x="114.3" y="342.7" text-anchor="middle" font-family="'Liberation Serif', 'Times New Roman', serif" font-size="5.6" fill="#333333">0.05</text>
<text x="159.25" y="342.7" text-anchor="middle" font-family="'Liberation Serif', 'Times New Roman', serif" font-size="5.6" fill="#333333">0.1</text>
<text x="204.2" y="342.7" text-anchor="middle" font-family="'Liberation Serif', 'Times New Roman', serif" font-size="5.6" fill="#333333">0.15</text>
<text x="22.2" y="336.75" text-anchor="end" font-family="'Liberation Serif', 'Times New Roman', serif" font-size="5.6" fill="#333333">0</text>
<text x="22.2" y="319.01" text-anchor="end" font-family="'Liberation Serif', 'Times New Roman', serif" font-size="5.6" fill="#333333">5</text>
<text x="22.2" y="301.27" text-anchor="end" font-family="'Liberation Serif', 'Times New Roman', serif" font-size="5.6" fill="#333333">10</text>
<text x="22.2" y="283.54" text-anchor="end" font-family="'Liberation Serif', 'Times New Roman', serif" font-size="5.6" fill="#333333">15</text>
<text x="22.2" y="265.8" text-anchor="end" font-family="'Liberation Serif', 'Times New Roman', serif" font-size="5.6" fill="#333333">20</text>
<text x="22.2" y="248.06" text-anchor="end" font-family="'Liberation Serif', 'Times New Roman', serif" font-size="5.6" fill="#333333">25</text>
<text x="22.2" y="230.32" text-anchor="end" font-family="'Liberation Serif', 'Times New Roman', serif" font-size="5.6" fill="#333333">30</text>
<text x="22.2" y="212.59" text-anchor="end" font-family="'Liberation Serif', 'Times New Roman', serif" font-size="5.6" fill="#333333">35</text>
<text x="22.2" y="194.85" text-anchor="end" font-family="'Liberation Serif', 'Times New Roman', serif" font-size="5.6" fill="#333333">40</text>
<path d="M24.4,335.3 v-1.8 M24.4,193.4 v1.8 M69.35,335.3 v-1.8 M69.35,193.4 v1.8 M114.3,335.3 v-1.8 M114.3,193.4 v1.8 M159.25,335.3 v-1.8 M159.25,193.4 v1.8 M204.2,335.3 v-1.8 M204.2,193.4 v1.8 M24.4,335.3 h1.8 M204.2,335.3 h-1.8 M24.4,317.56 h1.8 M204.2,317.56 h-1.8 M24.4,299.82 h1.8 M204.2,299.82 h-1.8 M24.4,282.09 h1.8 M204.2,282.09 h-1.8 M24.4,264.35 h1.8 M204.2,264.35 h-1.8 M24.4,246.61 h1.8 M204.2,246.61 h-1.8 M24.4,228.88 h1.8 M204.2,228.88 h-1.8 M24.4,211.14 h1.8 M204.2,211.14 h-1.8 M24.4,193.4 h1.8 M204.2,193.4 h-1.8" stroke="#979797" stroke-width="0.6"/>
<text x="114.85" y="350" text-anchor="middle" font-family="'Liberation Serif', 'Times New Roman', serif" font-size="6.8" fill="#333333" textLength="43.5" lengthAdjust="spacingAndGlyphs">Prediction Error</text>
<text transform="translate(12.3,264.4) rotate(-90)" text-anchor="middle" font-family="'Liberation Serif', 'Times New Roman', serif" font-size="6.3" fill="#333333" textLength="25.6" lengthAdjust="spacingAndGlyphs">Frequency</text>
<text x="120.6" y="362.4" text-anchor="middle" font-family="'Liberation Serif', 'Times New Roman', serif" font-weight="bold" font-size="10" fill="#111">(c)</text>
<rect x="141.8" y="197.3" width="57.9" height="14.2" fill="#fff" stroke="#979797" stroke-width="0.6"/>
<line x1="143.6" y1="200.8" x2="160" y2="200.8" stroke="#439bd7" stroke-width="0.9"/>
<rect x="143.6" y="205.4" width="16.4" height="3.8" fill="#c25c76" stroke="#7a3044" stroke-width="0.5"/>
<text x="161.5" y="202.9" font-family="'Liberation Serif', 'Times New Roman', serif" font-size="5.0" fill="#333333" textLength="36.9" lengthAdjust="spacingAndGlyphs">Density Function</text>
<text x="161.5" y="208.8" font-family="'Liberation Serif', 'Times New Roman', serif" font-size="5.0" fill="#333333" textLength="26.5" lengthAdjust="spacingAndGlyphs">Training Set</text>
</g>
<g id="pd">
<rect x="303.1" y="278.6" width="8.85" height="56.8" fill="#b283c4" stroke="#74468a" stroke-width="0.5"/>
<rect x="311.95" y="303.45" width="8.85" height="31.95" fill="#b283c4" stroke="#74468a" stroke-width="0.5"/>
<rect x="320.8" y="321.2" width="8.85" height="14.2" fill="#b283c4" stroke="#74468a" stroke-width="0.5"/>
<rect x="329.65" y="324.75" width="8.85" height="10.65" fill="#b283c4" stroke="#74468a" stroke-width="0.5"/>
<rect x="392.1" y="331.85" width="9.6" height="3.55" fill="#b283c4" stroke="#74468a" stroke-width="0.5"/>
<line x1="299.2" y1="193.4" x2="299.2" y2="335.4" stroke="#ee6274" stroke-width="0.8" stroke-dasharray="2,2.2"/>
<line x1="335.5" y1="193.4" x2="335.5" y2="335.4" stroke="#ee6274" stroke-width="0.8" stroke-dasharray="2,2.2"/>
<text transform="translate(305.2,228.4) rotate(-90)" font-family="'Liberation Sans', Arial, sans-serif" font-size="5.45" fill="#f07686" textLength="32.2" lengthAdjust="spacingAndGlyphs">Lower Bound</text>
<text transform="translate(341.5,228.4) rotate(-90)" font-family="'Liberation Sans', Arial, sans-serif" font-size="5.45" fill="#f07686" textLength="32.2" lengthAdjust="spacingAndGlyphs">Upper Bound</text>
<path d="M257.75,335.4 L258.2,335.4 L258.65,335.4 L259.11,335.4 L259.56,335.4 L260.01,335.4 L260.46,335.4 L260.91,335.4 L261.37,335.4 L261.82,335.4 L262.27,335.4 L262.72,335.4 L263.17,335.4 L263.63,335.4 L264.08,335.4 L264.53,335.4 L264.98,335.4 L265.43,335.4 L265.89,335.4 L266.34,335.4 L266.79,335.4 L267.24,335.4 L267.69,335.4 L268.15,335.4 L268.6,335.4 L269.05,335.4 L269.5,335.4 L269.95,335.4 L270.41,335.4 L270.86,335.4 L271.31,335.4 L271.76,335.4 L272.21,335.4 L272.67,335.4 L273.12,335.4 L273.57,335.4 L274.02,335.4 L274.47,335.4 L274.93,335.4 L275.38,335.4 L275.83,335.4 L276.28,335.4 L276.73,335.4 L277.19,335.4 L277.64,335.4 L278.09,335.39 L278.54,335.39 L278.99,335.39 L279.45,335.38 L279.9,335.38 L280.35,335.37 L280.8,335.37 L281.25,335.36 L281.71,335.34 L282.16,335.33 L282.61,335.31 L283.06,335.28 L283.51,335.25 L283.97,335.21 L284.42,335.15 L284.87,335.09 L285.32,335.01 L285.77,334.92 L286.23,334.8 L286.68,334.67 L287.13,334.5 L287.58,334.3 L288.03,334.05 L288.49,333.77 L288.94,333.43 L289.39,333.03 L289.84,332.56 L290.29,332.02 L290.75,331.39 L291.2,330.66 L291.65,329.83 L292.1,328.87 L292.55,327.79 L293.01,326.56 L293.46,325.18 L293.91,323.63 L294.36,321.91 L294.81,320 L295.27,317.9 L295.72,315.6 L296.17,313.09 L296.62,310.37 L297.07,307.44 L297.53,304.3 L297.98,300.95 L298.43,297.4 L298.88,293.67 L299.33,289.75 L299.79,285.68 L300.24,281.47 L300.69,277.15 L301.14,272.73 L301.59,268.25 L302.05,263.74 L302.5,259.24 L302.95,254.76 L303.4,250.36 L303.85,246.06 L304.31,241.89 L304.76,237.89 L305.21,234.09 L305.66,230.52 L306.11,227.2 L306.57,224.15 L307.02,221.38 L307.47,218.92 L307.92,216.77 L308.37,214.94 L308.83,213.42 L309.28,212.22 L309.73,211.33 L310.18,210.73 L310.63,210.42 L311.09,210.37 L311.54,210.58 L311.99,211.03 L312.44,211.7 L312.89,212.57 L313.35,213.63 L313.8,214.85 L314.25,216.24 L314.7,217.77 L315.15,219.43 L315.61,221.22 L316.06,223.12 L316.51,225.13 L316.96,227.25 L317.41,229.48 L317.87,231.79 L318.32,234.2 L318.77,236.69 L319.22,239.27 L319.67,241.91 L320.13,244.62 L320.58,247.39 L321.03,250.19 L321.48,253.03 L321.93,255.89 L322.39,258.74 L322.84,261.59 L323.29,264.41 L323.74,267.19 L324.19,269.92 L324.65,272.6 L325.1,275.2 L325.55,277.74 L326,280.2 L326.45,282.59 L326.91,284.91 L327.36,287.16 L327.81,289.35 L328.26,291.49 L328.71,293.59 L329.17,295.65 L329.62,297.68 L330.07,299.68 L330.52,301.68 L330.97,303.65 L331.43,305.61 L331.88,307.56 L332.33,309.49 L332.78,311.39 L333.23,313.26 L333.69,315.08 L334.14,316.85 L334.59,318.56 L335.04,320.19 L335.49,321.74 L335.95,323.19 L336.4,324.54 L336.85,325.78 L337.3,326.91 L337.75,327.92 L338.21,328.81 L338.66,329.59 L339.11,330.25 L339.56,330.79 L340.01,331.23 L340.47,331.56 L340.92,331.8 L341.37,331.95 L341.82,332.01 L342.27,332 L342.73,331.92 L343.18,331.79 L343.63,331.6 L344.08,331.36 L344.53,331.09 L344.99,330.78 L345.44,330.46 L345.89,330.12 L346.34,329.77 L346.79,329.42 L347.25,329.07 L347.7,328.74 L348.15,328.43 L348.6,328.15 L349.06,327.89 L349.51,327.67 L349.96,327.49 L350.41,327.36 L350.86,327.27 L351.32,327.22 L351.77,327.23 L352.22,327.29 L352.67,327.39 L353.12,327.54 L353.58,327.74 L354.03,327.97 L354.48,328.24 L354.93,328.55 L355.38,328.88 L355.84,329.23 L356.29,329.59 L356.74,329.97 L357.19,330.36 L357.64,330.74 L358.1,331.12 L358.55,331.5 L359,331.86 L359.45,332.21 L359.9,332.54 L360.36,332.85 L360.81,333.14 L361.26,333.41 L361.71,333.66 L362.16,333.89 L362.62,334.1 L363.07,334.28 L363.52,334.44 L363.97,334.59 L364.42,334.71 L364.88,334.83 L365.33,334.92 L365.78,335 L366.23,335.07 L366.68,335.13 L367.14,335.18 L367.59,335.22 L368.04,335.26 L368.49,335.29 L368.94,335.31 L369.4,335.33 L369.85,335.34 L370.3,335.36 L370.75,335.37 L371.2,335.37 L371.66,335.38 L372.11,335.38 L372.56,335.39 L373.01,335.39 L373.46,335.39 L373.92,335.4 L374.37,335.4 L374.82,335.4 L375.27,335.4 L375.72,335.4 L376.18,335.4 L376.63,335.4 L377.08,335.4 L377.53,335.4 L377.98,335.4 L378.44,335.4 L378.89,335.4 L379.34,335.4 L379.79,335.4 L380.24,335.4 L380.7,335.4 L381.15,335.4 L381.6,335.4 L382.05,335.4 L382.5,335.4 L382.96,335.4 L383.41,335.4 L383.86,335.4 L384.31,335.4 L384.76,335.4 L385.22,335.4 L385.67,335.4 L386.12,335.4 L386.57,335.4 L387.02,335.4 L387.48,335.4 L387.93,335.4 L388.38,335.4 L388.83,335.4 L389.28,335.4 L389.74,335.4 L390.19,335.4 L390.64,335.4 L391.09,335.4 L391.54,335.4 L392,335.4 L392.45,335.4 L392.9,335.4 L393.35,335.4 L393.8,335.4 L394.26,335.4 L394.71,335.4 L395.16,335.4 L395.61,335.4 L396.06,335.4 L396.52,335.4 L396.97,335.4 L397.42,335.4 L397.87,335.4 L398.32,335.4 L398.78,335.4 L399.23,335.4 L399.68,335.4 L400.13,335.4 L400.58,335.4 L401.04,335.4 L401.49,335.4 L401.94,335.4 L402.39,335.4 L402.84,335.4 L403.3,335.4 L403.75,335.4 L404.2,335.4 L404.65,335.4 L405.1,335.4 L405.56,335.4 L406.01,335.4 L406.46,335.4 L406.91,335.4 L407.36,335.4 L407.82,335.4 L408.27,335.4 L408.72,335.4 L409.17,335.4 L409.62,335.4 L410.08,335.4 L410.53,335.4 L410.98,335.4 L411.43,335.4 L411.88,335.4 L412.34,335.4 L412.79,335.4 L413.24,335.4 L413.69,335.4 L414.14,335.4 L414.6,335.4 L415.05,335.4 L415.5,335.4 L415.95,335.4 L416.4,335.4 L416.86,335.4 L417.31,335.4 L417.76,335.4 L418.21,335.4 L418.66,335.4 L419.12,335.4 L419.57,335.4 L420.02,335.4 L420.47,335.4 L420.92,335.4 L421.38,335.4 L421.83,335.4 L422.28,335.4 L422.73,335.4 L423.18,335.4 L423.64,335.4 L424.09,335.4 L424.54,335.4 L424.99,335.4 L425.44,335.4 L425.9,335.4 L426.35,335.4 L426.8,335.4 L427.25,335.4 L427.7,335.4 L428.16,335.4 L428.61,335.4 L429.06,335.4 L429.51,335.4 L429.96,335.4 L430.42,335.4 L430.87,335.4 L431.32,335.4 L431.77,335.4 L432.22,335.4 L432.68,335.4 L433.13,335.4 L433.58,335.4 L434.03,335.4 L434.48,335.4 L434.94,335.4 L435.39,335.4 L435.84,335.4 L436.29,335.4 L436.74,335.4 L437.2,335.4 L437.65,335.4 L438.1,335.4" fill="none" stroke="#439bd7" stroke-width="1.1" stroke-linejoin="round"/>
<path d="M257.75,193.4 V335.4 H438.1" fill="none" stroke="#979797" stroke-width="0.8"/>
<text x="257.75" y="342.8" text-anchor="middle" font-family="'Liberation Serif', 'Times New Roman', serif" font-size="5.6" fill="#333333">−<tspan dx="0.6">0.05</tspan></text>
<text x="302.84" y="342.8" text-anchor="middle" font-family="'Liberation Serif', 'Times New Roman', serif" font-size="5.6" fill="#333333">0</text>
<text x="347.93" y="342.8" text-anchor="middle" font-family="'Liberation Serif', 'Times New Roman', serif" font-size="5.6" fill="#333333">0.05</text>
<text x="393.01" y="342.8" text-anchor="middle" font-family="'Liberation Serif', 'Times New Roman', serif" font-size="5.6" fill="#333333">0.1</text>
<text x="438.1" y="342.8" text-anchor="middle" font-family="'Liberation Serif', 'Times New Roman', serif" font-size="5.6" fill="#333333">0.15</text>
<text x="256.35" y="336.85" text-anchor="end" font-family="'Liberation Serif', 'Times New Roman', serif" font-size="5.6" fill="#333333">0</text>
<text x="256.35" y="319.1" text-anchor="end" font-family="'Liberation Serif', 'Times New Roman', serif" font-size="5.6" fill="#333333">5</text>
<text x="256.35" y="301.35" text-anchor="end" font-family="'Liberation Serif', 'Times New Roman', serif" font-size="5.6" fill="#333333">10</text>
<text x="256.35" y="283.6" text-anchor="end" font-family="'Liberation Serif', 'Times New Roman', serif" font-size="5.6" fill="#333333">15</text>
<text x="256.35" y="265.85" text-anchor="end" font-family="'Liberation Serif', 'Times New Roman', serif" font-size="5.6" fill="#333333">20</text>
<text x="256.35" y="248.1" text-anchor="end" font-family="'Liberation Serif', 'Times New Roman', serif" font-size="5.6" fill="#333333">25</text>
<text x="256.35" y="230.35" text-anchor="end" font-family="'Liberation Serif', 'Times New Roman', serif" font-size="5.6" fill="#333333">30</text>
<text x="256.35" y="212.6" text-anchor="end" font-family="'Liberation Serif', 'Times New Roman', serif" font-size="5.6" fill="#333333">35</text>
<text x="256.35" y="194.85" text-anchor="end" font-family="'Liberation Serif', 'Times New Roman', serif" font-size="5.6" fill="#333333">40</text>
<path d="M257.75,335.4 v-1.8 M302.84,335.4 v-1.8 M347.93,335.4 v-1.8 M393.01,335.4 v-1.8 M438.1,335.4 v-1.8 M257.75,335.4 h1.8 M257.75,317.65 h1.8 M257.75,299.9 h1.8 M257.75,282.15 h1.8 M257.75,264.4 h1.8 M257.75,246.65 h1.8 M257.75,228.9 h1.8 M257.75,211.15 h1.8 M257.75,193.4 h1.8" stroke="#979797" stroke-width="0.6"/>
<text x="348.45" y="350" text-anchor="middle" font-family="'Liberation Serif', 'Times New Roman', serif" font-size="6.8" fill="#333333" textLength="43.5" lengthAdjust="spacingAndGlyphs">Prediction Error</text>
<text transform="translate(246,264.4) rotate(-90)" text-anchor="middle" font-family="'Liberation Serif', 'Times New Roman', serif" font-size="6.3" fill="#333333" textLength="25.6" lengthAdjust="spacingAndGlyphs">Frequency</text>
<text x="354.3" y="362.4" text-anchor="middle" font-family="'Liberation Serif', 'Times New Roman', serif" font-weight="bold" font-size="10" fill="#111">(d)</text>
<rect x="375.5" y="197.4" width="57.8" height="13.8" fill="#fff" stroke="#979797" stroke-width="0.6"/>
<line x1="377" y1="201" x2="393.4" y2="201" stroke="#439bd7" stroke-width="0.9"/>
<rect x="377" y="205.25" width="16.4" height="4.35" fill="#b283c4" stroke="#74468a" stroke-width="0.5"/>
<text x="395" y="203" font-family="'Liberation Serif', 'Times New Roman', serif" font-size="5.0" fill="#333333" textLength="36.4" lengthAdjust="spacingAndGlyphs">Density Function</text>
<text x="395" y="208.9" font-family="'Liberation Serif', 'Times New Roman', serif" font-size="5.0" fill="#333333" textLength="16.9" lengthAdjust="spacingAndGlyphs">Test Set</text>
</g>
<g id="pe">
<rect x="71.4" y="509.42" width="7.55" height="8.18" fill="#f7cf62" stroke="#a8883a" stroke-width="0.5"/>
<rect x="78.95" y="512.11" width="7.55" height="5.49" fill="#f7cf62" stroke="#a8883a" stroke-width="0.5"/>
<rect x="86.5" y="510.59" width="7.55" height="7.01" fill="#f7cf62" stroke="#a8883a" stroke-width="0.5"/>
<rect x="94.05" y="512.11" width="7.55" height="5.49" fill="#f7cf62" stroke="#a8883a" stroke-width="0.5"/>
<rect x="101.6" y="515.26" width="7.55" height="2.34" fill="#f7cf62" stroke="#a8883a" stroke-width="0.5"/>
<rect x="114.9" y="516.43" width="8.4" height="1.17" fill="#f7cf62" stroke="#a8883a" stroke-width="0.5"/>
<rect x="123.3" y="516.43" width="8.4" height="1.17" fill="#f7cf62" stroke="#a8883a" stroke-width="0.5"/>
<rect x="137.3" y="516.43" width="9.4" height="1.17" fill="#f7cf62" stroke="#a8883a" stroke-width="0.5"/>
<line x1="66.4" y1="377.45" x2="66.4" y2="517.6" stroke="#ee6274" stroke-width="0.8" stroke-dasharray="2,2.2"/>
<line x1="131.5" y1="377.45" x2="131.5" y2="517.6" stroke="#ee6274" stroke-width="0.8" stroke-dasharray="2,2.2"/>
<text transform="translate(72.4,412.45) rotate(-90)" font-family="'Liberation Sans', Arial, sans-serif" font-size="5.45" fill="#f07686" textLength="32.2" lengthAdjust="spacingAndGlyphs">Lower Bound</text>
<text transform="translate(137.5,412.45) rotate(-90)" font-family="'Liberation Sans', Arial, sans-serif" font-size="5.45" fill="#f07686" textLength="32.2" lengthAdjust="spacingAndGlyphs">Upper Bound</text>
<path d="M26.6,517.6 L27.05,517.6 L27.49,517.6 L27.94,517.6 L28.38,517.6 L28.83,517.6 L29.27,517.6 L29.72,517.6 L30.16,517.6 L30.61,517.6 L31.05,517.6 L31.5,517.6 L31.94,517.59 L32.39,517.59 L32.83,517.59 L33.28,517.59 L33.72,517.59 L34.17,517.59 L34.61,517.58 L35.06,517.58 L35.5,517.58 L35.95,517.57 L36.39,517.57 L36.84,517.56 L37.28,517.56 L37.73,517.55 L38.17,517.54 L38.62,517.53 L39.06,517.52 L39.51,517.5 L39.95,517.49 L40.4,517.47 L40.84,517.45 L41.29,517.43 L41.73,517.4 L42.18,517.37 L42.62,517.33 L43.07,517.29 L43.51,517.25 L43.96,517.19 L44.4,517.14 L44.85,517.07 L45.29,516.99 L45.74,516.91 L46.18,516.81 L46.63,516.71 L47.08,516.59 L47.52,516.45 L47.97,516.31 L48.41,516.14 L48.86,515.95 L49.3,515.75 L49.75,515.52 L50.19,515.27 L50.64,514.99 L51.08,514.69 L51.53,514.35 L51.97,513.99 L52.42,513.58 L52.86,513.14 L53.31,512.66 L53.75,512.14 L54.2,511.57 L54.64,510.95 L55.09,510.28 L55.53,509.56 L55.98,508.78 L56.42,507.94 L56.87,507.04 L57.31,506.08 L57.76,505.05 L58.2,503.94 L58.65,502.77 L59.09,501.52 L59.54,500.19 L59.98,498.79 L60.43,497.31 L60.87,495.74 L61.32,494.09 L61.76,492.36 L62.21,490.55 L62.65,488.65 L63.1,486.67 L63.54,484.61 L63.99,482.47 L64.43,480.25 L64.88,477.95 L65.32,475.58 L65.77,473.13 L66.22,470.62 L66.66,468.05 L67.11,465.41 L67.55,462.73 L68,459.99 L68.44,457.21 L68.89,454.39 L69.33,451.55 L69.78,448.68 L70.22,445.79 L70.67,442.9 L71.11,440 L71.56,437.11 L72,434.24 L72.45,431.38 L72.89,428.56 L73.34,425.78 L73.78,423.03 L74.23,420.35 L74.67,417.72 L75.12,415.16 L75.56,412.67 L76.01,410.26 L76.45,407.94 L76.9,405.71 L77.34,403.58 L77.79,401.54 L78.23,399.62 L78.68,397.8 L79.12,396.09 L79.57,394.5 L80.01,393.03 L80.46,391.67 L80.9,390.43 L81.35,389.31 L81.79,388.32 L82.24,387.44 L82.68,386.68 L83.13,386.04 L83.57,385.51 L84.02,385.11 L84.46,384.81 L84.91,384.63 L85.35,384.56 L85.8,384.6 L86.25,384.74 L86.69,384.99 L87.14,385.34 L87.58,385.79 L88.03,386.34 L88.47,386.98 L88.92,387.72 L89.36,388.55 L89.81,389.47 L90.25,390.48 L90.7,391.57 L91.14,392.75 L91.59,394.02 L92.03,395.36 L92.48,396.79 L92.92,398.29 L93.37,399.87 L93.81,401.52 L94.26,403.25 L94.7,405.05 L95.15,406.92 L95.59,408.85 L96.04,410.84 L96.48,412.9 L96.93,415.01 L97.37,417.17 L97.82,419.39 L98.26,421.64 L98.71,423.94 L99.15,426.28 L99.6,428.64 L100.04,431.03 L100.49,433.45 L100.93,435.87 L101.38,438.31 L101.82,440.75 L102.27,443.19 L102.71,445.61 L103.16,448.03 L103.6,450.42 L104.05,452.79 L104.49,455.13 L104.94,457.43 L105.38,459.69 L105.83,461.9 L106.28,464.07 L106.72,466.17 L107.17,468.22 L107.61,470.2 L108.06,472.12 L108.5,473.97 L108.95,475.74 L109.39,477.45 L109.84,479.07 L110.28,480.63 L110.73,482.1 L111.17,483.5 L111.62,484.82 L112.06,486.06 L112.51,487.23 L112.95,488.33 L113.4,489.35 L113.84,490.31 L114.29,491.19 L114.73,492.01 L115.18,492.76 L115.62,493.46 L116.07,494.09 L116.51,494.68 L116.96,495.21 L117.4,495.69 L117.85,496.12 L118.29,496.52 L118.74,496.88 L119.18,497.2 L119.63,497.49 L120.07,497.75 L120.52,497.98 L120.96,498.19 L121.41,498.38 L121.85,498.56 L122.3,498.72 L122.74,498.87 L123.19,499 L123.63,499.13 L124.08,499.26 L124.52,499.38 L124.97,499.5 L125.42,499.61 L125.86,499.73 L126.31,499.85 L126.75,499.98 L127.2,500.11 L127.64,500.24 L128.09,500.38 L128.53,500.52 L128.98,500.67 L129.42,500.83 L129.87,500.99 L130.31,501.16 L130.76,501.33 L131.2,501.51 L131.65,501.7 L132.09,501.89 L132.54,502.08 L132.98,502.28 L133.43,502.48 L133.87,502.68 L134.32,502.88 L134.76,503.08 L135.21,503.28 L135.65,503.48 L136.1,503.67 L136.54,503.87 L136.99,504.06 L137.43,504.25 L137.88,504.44 L138.32,504.63 L138.77,504.82 L139.21,505.01 L139.66,505.19 L140.1,505.39 L140.55,505.58 L140.99,505.78 L141.44,505.99 L141.88,506.2 L142.33,506.42 L142.77,506.66 L143.22,506.9 L143.66,507.15 L144.11,507.42 L144.55,507.7 L145,507.99 L145.45,508.3 L145.89,508.61 L146.34,508.94 L146.78,509.27 L147.23,509.61 L147.67,509.95 L148.12,510.3 L148.56,510.65 L149.01,510.99 L149.45,511.34 L149.9,511.68 L150.34,512.01 L150.79,512.34 L151.23,512.65 L151.68,512.96 L152.12,513.25 L152.57,513.53 L153.01,513.8 L153.46,514.05 L153.9,514.29 L154.35,514.52 L154.79,514.73 L155.24,514.93 L155.68,515.11 L156.13,515.29 L156.57,515.45 L157.02,515.6 L157.46,515.74 L157.91,515.87 L158.35,515.99 L158.8,516.11 L159.24,516.21 L159.69,516.31 L160.13,516.4 L160.58,516.49 L161.02,516.57 L161.47,516.64 L161.91,516.71 L162.36,516.78 L162.8,516.84 L163.25,516.89 L163.69,516.94 L164.14,516.99 L164.58,517.04 L165.03,517.08 L165.48,517.12 L165.92,517.16 L166.37,517.19 L166.81,517.22 L167.26,517.25 L167.7,517.28 L168.15,517.31 L168.59,517.33 L169.04,517.35 L169.48,517.37 L169.93,517.39 L170.37,517.41 L170.82,517.43 L171.26,517.44 L171.71,517.46 L172.15,517.47 L172.6,517.48 L173.04,517.49 L173.49,517.5 L173.93,517.51 L174.38,517.52 L174.82,517.53 L175.27,517.53 L175.71,517.54 L176.16,517.54 L176.6,517.55 L177.05,517.55 L177.49,517.56 L177.94,517.56 L178.38,517.57 L178.83,517.57 L179.27,517.57 L179.72,517.58 L180.16,517.58 L180.61,517.58 L181.05,517.58 L181.5,517.58 L181.94,517.59 L182.39,517.59 L182.83,517.59 L183.28,517.59 L183.72,517.59 L184.17,517.59 L184.62,517.59 L185.06,517.59 L185.51,517.59 L185.95,517.6 L186.4,517.6 L186.84,517.6 L187.29,517.6 L187.73,517.6 L188.18,517.6 L188.62,517.6 L189.07,517.6 L189.51,517.6 L189.96,517.6 L190.4,517.6 L190.85,517.6 L191.29,517.6 L191.74,517.6 L192.18,517.6 L192.63,517.6 L193.07,517.6 L193.52,517.6 L193.96,517.6 L194.41,517.6 L194.85,517.6 L195.3,517.6 L195.74,517.6 L196.19,517.6 L196.63,517.6 L197.08,517.6 L197.52,517.6 L197.97,517.6 L198.41,517.6 L198.86,517.6 L199.3,517.6 L199.75,517.6 L200.19,517.6 L200.64,517.6 L201.08,517.6 L201.53,517.6 L201.97,517.6 L202.42,517.6 L202.86,517.6 L203.31,517.6 L203.75,517.6 L204.2,517.6" fill="none" stroke="#439bd7" stroke-width="1.1" stroke-linejoin="round"/>
<path d="M26.6,377.45 V517.6 H204.2" fill="none" stroke="#979797" stroke-width="0.8"/>
<path d="M26.6,377.45 H204.2 V517.6" fill="none" stroke="#979797" stroke-width="0.7"/>
<text x="26.6" y="525" text-anchor="middle" font-family="'Liberation Serif', 'Times New Roman', serif" font-size="5.6" fill="#333333">−<tspan dx="0.6">0.01</tspan></text>
<text x="48.8" y="525" text-anchor="middle" font-family="'Liberation Serif', 'Times New Roman', serif" font-size="5.6" fill="#333333">−<tspan dx="0.6">0.005</tspan></text>
<text x="71" y="525" text-anchor="middle" font-family="'Liberation Serif', 'Times New Roman', serif" font-size="5.6" fill="#333333">0</text>
<text x="93.2" y="525" text-anchor="middle" font-family="'Liberation Serif', 'Times New Roman', serif" font-size="5.6" fill="#333333">0.005</text>
<text x="115.4" y="525" text-anchor="middle" font-family="'Liberation Serif', 'Times New Roman', serif" font-size="5.6" fill="#333333">0.01</text>
<text x="137.6" y="525" text-anchor="middle" font-family="'Liberation Serif', 'Times New Roman', serif" font-size="5.6" fill="#333333">0.015</text>
<text x="159.8" y="525" text-anchor="middle" font-family="'Liberation Serif', 'Times New Roman', serif" font-size="5.6" fill="#333333">0.02</text>
<text x="182" y="525" text-anchor="middle" font-family="'Liberation Serif', 'Times New Roman', serif" font-size="5.6" fill="#333333">0.025</text>
<text x="204.2" y="525" text-anchor="middle" font-family="'Liberation Serif', 'Times New Roman', serif" font-size="5.6" fill="#333333">0.03</text>
<text x="25" y="519.05" text-anchor="end" font-family="'Liberation Serif', 'Times New Roman', serif" font-size="5.6" fill="#333333">0</text>
<text x="25" y="495.69" text-anchor="end" font-family="'Liberation Serif', 'Times New Roman', serif" font-size="5.6" fill="#333333">20</text>
<text x="25" y="472.33" text-anchor="end" font-family="'Liberation Serif', 'Times New Roman', serif" font-size="5.6" fill="#333333">40</text>
<text x="25" y="448.97" text-anchor="end" font-family="'Liberation Serif', 'Times New Roman', serif" font-size="5.6" fill="#333333">60</text>
<text x="25" y="425.62" text-anchor="end" font-family="'Liberation Serif', 'Times New Roman', serif" font-size="5.6" fill="#333333">80</text>
<text x="25" y="402.26" text-anchor="end" font-family="'Liberation Serif', 'Times New Roman', serif" font-size="5.6" fill="#333333">100</text>
<text x="25" y="378.9" text-anchor="end" font-family="'Liberation Serif', 'Times New Roman', serif" font-size="5.6" fill="#333333">120</text>
<path d="M26.6,517.6 v-1.8 M26.6,377.45 v1.8 M48.8,517.6 v-1.8 M48.8,377.45 v1.8 M71,517.6 v-1.8 M71,377.45 v1.8 M93.2,517.6 v-1.8 M93.2,377.45 v1.8 M115.4,517.6 v-1.8 M115.4,377.45 v1.8 M137.6,517.6 v-1.8 M137.6,377.45 v1.8 M159.8,517.6 v-1.8 M159.8,377.45 v1.8 M182,517.6 v-1.8 M182,377.45 v1.8 M204.2,517.6 v-1.8 M204.2,377.45 v1.8 M26.6,517.6 h1.8 M204.2,517.6 h-1.8 M26.6,494.24 h1.8 M204.2,494.24 h-1.8 M26.6,470.88 h1.8 M204.2,470.88 h-1.8 M26.6,447.52 h1.8 M204.2,447.52 h-1.8 M26.6,424.17 h1.8 M204.2,424.17 h-1.8 M26.6,400.81 h1.8 M204.2,400.81 h-1.8 M26.6,377.45 h1.8 M204.2,377.45 h-1.8" stroke="#979797" stroke-width="0.6"/>
<text x="115.7" y="532.3" text-anchor="middle" font-family="'Liberation Serif', 'Times New Roman', serif" font-size="6.8" fill="#333333" textLength="43.5" lengthAdjust="spacingAndGlyphs">Prediction Error</text>
<text transform="translate(12.4,447.5) rotate(-90)" text-anchor="middle" font-family="'Liberation Serif', 'Times New Roman', serif" font-size="6.3" fill="#333333" textLength="25.6" lengthAdjust="spacingAndGlyphs">Frequency</text>
<text x="120.6" y="544.6" text-anchor="middle" font-family="'Liberation Serif', 'Times New Roman', serif" font-weight="bold" font-size="10" fill="#111">(e)</text>
<rect x="142.4" y="381.8" width="57.3" height="14.1" fill="#fff" stroke="#979797" stroke-width="0.6"/>
<line x1="143.9" y1="385.1" x2="160.6" y2="385.1" stroke="#439bd7" stroke-width="0.9"/>
<rect x="143.9" y="389.8" width="16.7" height="3.7" fill="#f7cf62" stroke="#a8883a" stroke-width="0.5"/>
<text x="161.8" y="387.1" font-family="'Liberation Serif', 'Times New Roman', serif" font-size="5.0" fill="#333333" textLength="36.9" lengthAdjust="spacingAndGlyphs">Density Function</text>
<text x="161.8" y="393" font-family="'Liberation Serif', 'Times New Roman', serif" font-size="5.0" fill="#333333" textLength="26.5" lengthAdjust="spacingAndGlyphs">Training Set</text>
</g>
<g id="pf">
<rect x="304.9" y="506.15" width="10.7" height="11.45" fill="#5b54fa" stroke="#2e2aa0" stroke-width="0.5"/>
<rect x="315.6" y="502.53" width="10.7" height="15.07" fill="#5b54fa" stroke="#2e2aa0" stroke-width="0.5"/>
<rect x="326.3" y="512.23" width="10.7" height="5.37" fill="#5b54fa" stroke="#2e2aa0" stroke-width="0.5"/>
<rect x="337" y="515.26" width="10.7" height="2.34" fill="#5b54fa" stroke="#2e2aa0" stroke-width="0.5"/>
<rect x="368.6" y="516.43" width="11" height="1.17" fill="#5b54fa" stroke="#2e2aa0" stroke-width="0.5"/>
<rect x="390.4" y="516.43" width="10.7" height="1.17" fill="#5b54fa" stroke="#2e2aa0" stroke-width="0.5"/>
<line x1="300" y1="377.45" x2="300" y2="517.6" stroke="#ee6274" stroke-width="0.8" stroke-dasharray="2,2.2"/>
<line x1="365" y1="377.45" x2="365" y2="517.6" stroke="#ee6274" stroke-width="0.8" stroke-dasharray="2,2.2"/>
<text transform="translate(306,412.45) rotate(-90)" font-family="'Liberation Sans', Arial, sans-serif" font-size="5.45" fill="#f07686" textLength="32.2" lengthAdjust="spacingAndGlyphs">Lower Bound</text>
<text transform="translate(371,412.45) rotate(-90)" font-family="'Liberation Sans', Arial, sans-serif" font-size="5.45" fill="#f07686" textLength="32.2" lengthAdjust="spacingAndGlyphs">Upper Bound</text>
<path d="M260.5,517.6 L260.95,517.6 L261.39,517.6 L261.84,517.6 L262.28,517.6 L262.73,517.6 L263.17,517.6 L263.62,517.6 L264.06,517.6 L264.51,517.6 L264.95,517.6 L265.4,517.6 L265.84,517.59 L266.29,517.59 L266.73,517.59 L267.18,517.59 L267.62,517.59 L268.07,517.59 L268.51,517.58 L268.96,517.58 L269.4,517.58 L269.85,517.57 L270.29,517.57 L270.74,517.56 L271.18,517.56 L271.63,517.55 L272.07,517.54 L272.52,517.53 L272.96,517.52 L273.41,517.5 L273.85,517.49 L274.3,517.47 L274.74,517.45 L275.19,517.43 L275.63,517.4 L276.08,517.37 L276.52,517.33 L276.97,517.29 L277.41,517.25 L277.86,517.19 L278.3,517.14 L278.75,517.07 L279.19,516.99 L279.64,516.91 L280.08,516.81 L280.53,516.71 L280.98,516.59 L281.42,516.45 L281.87,516.31 L282.31,516.14 L282.76,515.95 L283.2,515.75 L283.65,515.52 L284.09,515.27 L284.54,514.99 L284.98,514.69 L285.43,514.35 L285.87,513.99 L286.32,513.58 L286.76,513.14 L287.21,512.66 L287.65,512.14 L288.1,511.57 L288.54,510.95 L288.99,510.28 L289.43,509.56 L289.88,508.78 L290.32,507.94 L290.77,507.04 L291.21,506.08 L291.66,505.05 L292.1,503.94 L292.55,502.77 L292.99,501.52 L293.44,500.19 L293.88,498.79 L294.33,497.31 L294.77,495.74 L295.22,494.09 L295.66,492.36 L296.11,490.55 L296.55,488.65 L297,486.67 L297.44,484.61 L297.89,482.47 L298.33,480.25 L298.78,477.95 L299.22,475.58 L299.67,473.13 L300.12,470.62 L300.56,468.05 L301.01,465.41 L301.45,462.73 L301.9,459.99 L302.34,457.21 L302.79,454.39 L303.23,451.55 L303.68,448.68 L304.12,445.79 L304.57,442.9 L305.01,440 L305.46,437.11 L305.9,434.24 L306.35,431.38 L306.79,428.56 L307.24,425.78 L307.68,423.03 L308.13,420.35 L308.57,417.72 L309.02,415.16 L309.46,412.67 L309.91,410.26 L310.35,407.94 L310.8,405.71 L311.24,403.58 L311.69,401.54 L312.13,399.62 L312.58,397.8 L313.02,396.09 L313.47,394.5 L313.91,393.03 L314.36,391.67 L314.8,390.43 L315.25,389.31 L315.69,388.32 L316.14,387.44 L316.58,386.68 L317.03,386.04 L317.47,385.51 L317.92,385.11 L318.36,384.81 L318.81,384.63 L319.25,384.56 L319.7,384.6 L320.15,384.74 L320.59,384.99 L321.04,385.34 L321.48,385.79 L321.93,386.34 L322.37,386.98 L322.82,387.72 L323.26,388.55 L323.71,389.47 L324.15,390.48 L324.6,391.57 L325.04,392.75 L325.49,394.02 L325.93,395.36 L326.38,396.79 L326.82,398.29 L327.27,399.87 L327.71,401.52 L328.16,403.25 L328.6,405.05 L329.05,406.92 L329.49,408.85 L329.94,410.84 L330.38,412.9 L330.83,415.01 L331.27,417.17 L331.72,419.39 L332.16,421.64 L332.61,423.94 L333.05,426.28 L333.5,428.64 L333.94,431.03 L334.39,433.45 L334.83,435.87 L335.28,438.31 L335.72,440.75 L336.17,443.19 L336.61,445.61 L337.06,448.03 L337.5,450.42 L337.95,452.79 L338.39,455.13 L338.84,457.43 L339.28,459.69 L339.73,461.9 L340.18,464.07 L340.62,466.17 L341.07,468.22 L341.51,470.2 L341.96,472.12 L342.4,473.97 L342.85,475.74 L343.29,477.45 L343.74,479.07 L344.18,480.63 L344.63,482.1 L345.07,483.5 L345.52,484.82 L345.96,486.06 L346.41,487.23 L346.85,488.33 L347.3,489.35 L347.74,490.31 L348.19,491.19 L348.63,492.01 L349.08,492.76 L349.52,493.46 L349.97,494.09 L350.41,494.68 L350.86,495.21 L351.3,495.69 L351.75,496.12 L352.19,496.52 L352.64,496.88 L353.08,497.2 L353.53,497.49 L353.97,497.75 L354.42,497.98 L354.86,498.19 L355.31,498.38 L355.75,498.56 L356.2,498.72 L356.64,498.87 L357.09,499 L357.53,499.13 L357.98,499.26 L358.42,499.38 L358.87,499.5 L359.32,499.61 L359.76,499.73 L360.21,499.85 L360.65,499.98 L361.1,500.11 L361.54,500.24 L361.99,500.38 L362.43,500.52 L362.88,500.67 L363.32,500.83 L363.77,500.99 L364.21,501.16 L364.66,501.33 L365.1,501.51 L365.55,501.7 L365.99,501.89 L366.44,502.08 L366.88,502.28 L367.33,502.48 L367.77,502.68 L368.22,502.88 L368.66,503.08 L369.11,503.28 L369.55,503.48 L370,503.67 L370.44,503.87 L370.89,504.06 L371.33,504.25 L371.78,504.44 L372.22,504.63 L372.67,504.82 L373.11,505.01 L373.56,505.19 L374,505.39 L374.45,505.58 L374.89,505.78 L375.34,505.99 L375.78,506.2 L376.23,506.42 L376.67,506.66 L377.12,506.9 L377.56,507.15 L378.01,507.42 L378.45,507.7 L378.9,507.99 L379.35,508.3 L379.79,508.61 L380.24,508.94 L380.68,509.27 L381.13,509.61 L381.57,509.95 L382.02,510.3 L382.46,510.65 L382.91,510.99 L383.35,511.34 L383.8,511.68 L384.24,512.01 L384.69,512.34 L385.13,512.65 L385.58,512.96 L386.02,513.25 L386.47,513.53 L386.91,513.8 L387.36,514.05 L387.8,514.29 L388.25,514.52 L388.69,514.73 L389.14,514.93 L389.58,515.11 L390.03,515.29 L390.47,515.45 L390.92,515.6 L391.36,515.74 L391.81,515.87 L392.25,515.99 L392.7,516.11 L393.14,516.21 L393.59,516.31 L394.03,516.4 L394.48,516.49 L394.92,516.57 L395.37,516.64 L395.81,516.71 L396.26,516.78 L396.7,516.84 L397.15,516.89 L397.59,516.94 L398.04,516.99 L398.48,517.04 L398.93,517.08 L399.38,517.12 L399.82,517.16 L400.27,517.19 L400.71,517.22 L401.16,517.25 L401.6,517.28 L402.05,517.31 L402.49,517.33 L402.94,517.35 L403.38,517.37 L403.83,517.39 L404.27,517.41 L404.72,517.43 L405.16,517.44 L405.61,517.46 L406.05,517.47 L406.5,517.48 L406.94,517.49 L407.39,517.5 L407.83,517.51 L408.28,517.52 L408.72,517.53 L409.17,517.53 L409.61,517.54 L410.06,517.54 L410.5,517.55 L410.95,517.55 L411.39,517.56 L411.84,517.56 L412.28,517.57 L412.73,517.57 L413.17,517.57 L413.62,517.58 L414.06,517.58 L414.51,517.58 L414.95,517.58 L415.4,517.58 L415.84,517.59 L416.29,517.59 L416.73,517.59 L417.18,517.59 L417.62,517.59 L418.07,517.59 L418.52,517.59 L418.96,517.59 L419.41,517.59 L419.85,517.6 L420.3,517.6 L420.74,517.6 L421.19,517.6 L421.63,517.6 L422.08,517.6 L422.52,517.6 L422.97,517.6 L423.41,517.6 L423.86,517.6 L424.3,517.6 L424.75,517.6 L425.19,517.6 L425.64,517.6 L426.08,517.6 L426.53,517.6 L426.97,517.6 L427.42,517.6 L427.86,517.6 L428.31,517.6 L428.75,517.6 L429.2,517.6 L429.64,517.6 L430.09,517.6 L430.53,517.6 L430.98,517.6 L431.42,517.6 L431.87,517.6 L432.31,517.6 L432.76,517.6 L433.2,517.6 L433.65,517.6 L434.09,517.6 L434.54,517.6 L434.98,517.6 L435.43,517.6 L435.87,517.6 L436.32,517.6 L436.76,517.6 L437.21,517.6 L437.65,517.6 L438.1,517.6" fill="none" stroke="#439bd7" stroke-width="1.1" stroke-linejoin="round"/>
<path d="M260.5,377.45 V517.6 H438.1" fill="none" stroke="#979797" stroke-width="0.8"/>
<text x="260.5" y="525" text-anchor="middle" font-family="'Liberation Serif', 'Times New Roman', serif" font-size="5.6" fill="#333333">−<tspan dx="0.6">0.01</tspan></text>
<text x="282.7" y="525" text-anchor="middle" font-family="'Liberation Serif', 'Times New Roman', serif" font-size="5.6" fill="#333333">−<tspan dx="0.6">0.005</tspan></text>
<text x="304.9" y="525" text-anchor="middle" font-family="'Liberation Serif', 'Times New Roman', serif" font-size="5.6" fill="#333333">0</text>
<text x="327.1" y="525" text-anchor="middle" font-family="'Liberation Serif', 'Times New Roman', serif" font-size="5.6" fill="#333333">0.005</text>
<text x="349.3" y="525" text-anchor="middle" font-family="'Liberation Serif', 'Times New Roman', serif" font-size="5.6" fill="#333333">0.01</text>
<text x="371.5" y="525" text-anchor="middle" font-family="'Liberation Serif', 'Times New Roman', serif" font-size="5.6" fill="#333333">0.015</text>
<text x="393.7" y="525" text-anchor="middle" font-family="'Liberation Serif', 'Times New Roman', serif" font-size="5.6" fill="#333333">0.02</text>
<text x="415.9" y="525" text-anchor="middle" font-family="'Liberation Serif', 'Times New Roman', serif" font-size="5.6" fill="#333333">0.025</text>
<text x="438.1" y="525" text-anchor="middle" font-family="'Liberation Serif', 'Times New Roman', serif" font-size="5.6" fill="#333333">0.03</text>
<text x="258.9" y="519.05" text-anchor="end" font-family="'Liberation Serif', 'Times New Roman', serif" font-size="5.6" fill="#333333">0</text>
<text x="258.9" y="495.69" text-anchor="end" font-family="'Liberation Serif', 'Times New Roman', serif" font-size="5.6" fill="#333333">20</text>
<text x="258.9" y="472.33" text-anchor="end" font-family="'Liberation Serif', 'Times New Roman', serif" font-size="5.6" fill="#333333">40</text>
<text x="258.9" y="448.97" text-anchor="end" font-family="'Liberation Serif', 'Times New Roman', serif" font-size="5.6" fill="#333333">60</text>
<text x="258.9" y="425.62" text-anchor="end" font-family="'Liberation Serif', 'Times New Roman', serif" font-size="5.6" fill="#333333">80</text>
<text x="258.9" y="402.26" text-anchor="end" font-family="'Liberation Serif', 'Times New Roman', serif" font-size="5.6" fill="#333333">100</text>
<text x="258.9" y="378.9" text-anchor="end" font-family="'Liberation Serif', 'Times New Roman', serif" font-size="5.6" fill="#333333">120</text>
<path d="M260.5,517.6 v-1.8 M282.7,517.6 v-1.8 M304.9,517.6 v-1.8 M327.1,517.6 v-1.8 M349.3,517.6 v-1.8 M371.5,517.6 v-1.8 M393.7,517.6 v-1.8 M415.9,517.6 v-1.8 M438.1,517.6 v-1.8 M260.5,517.6 h1.8 M260.5,494.24 h1.8 M260.5,470.88 h1.8 M260.5,447.52 h1.8 M260.5,424.17 h1.8 M260.5,400.81 h1.8 M260.5,377.45 h1.8" stroke="#979797" stroke-width="0.6"/>
<text x="349.1" y="532.3" text-anchor="middle" font-family="'Liberation Serif', 'Times New Roman', serif" font-size="6.8" fill="#333333" textLength="43.5" lengthAdjust="spacingAndGlyphs">Prediction Error</text>
<text transform="translate(246,447.5) rotate(-90)" text-anchor="middle" font-family="'Liberation Serif', 'Times New Roman', serif" font-size="6.3" fill="#333333" textLength="25.6" lengthAdjust="spacingAndGlyphs">Frequency</text>
<text x="354.3" y="543.9" text-anchor="middle" font-family="'Liberation Serif', 'Times New Roman', serif" font-weight="bold" font-size="10" fill="#111">(f)</text>
<rect x="376.25" y="381.4" width="57.5" height="13.5" fill="#fff" stroke="#979797" stroke-width="0.6"/>
<line x1="377.8" y1="385" x2="394.2" y2="385" stroke="#439bd7" stroke-width="0.9"/>
<rect x="377.8" y="389.25" width="16.4" height="4.35" fill="#5b54fa" stroke="#2e2aa0" stroke-width="0.5"/>
<text x="395.8" y="387" font-family="'Liberation Serif', 'Times New Roman', serif" font-size="5.0" fill="#333333" textLength="36.4" lengthAdjust="spacingAndGlyphs">Density Function</text>
<text x="395.8" y="392.9" font-family="'Liberation Serif', 'Times New Roman', serif" font-size="5.0" fill="#333333" textLength="16.9" lengthAdjust="spacingAndGlyphs">Test Set</text>
</g>
</svg></body></html>
